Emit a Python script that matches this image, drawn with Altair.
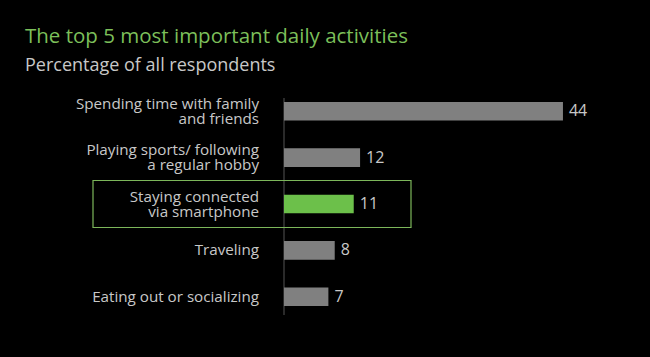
import altair as alt
import pandas as pd

categories = [
    "Spending time with family|and friends",
    "Playing sports/ following|a regular hobby",
    "Staying connected|via smartphone",
    "Traveling",
    "Eating out or socializing",
]
values = [44, 12, 11, 8, 7]
highlight = [False, False, True, False, False]

df = pd.DataFrame({"cat": categories, "value": values, "hl": highlight})

FONT = "Open Sans"
LABEL = "#c8c8c8"

y_enc = alt.Y(
    "cat:N",
    sort=categories,
    scale=alt.Scale(paddingInner=0.6, paddingOuter=0.3),
    axis=None,
)
y_plain = alt.Y("cat:N", sort=categories, axis=None)
x_enc = alt.X("value:Q", scale=alt.Scale(domain=[0, 50]), axis=None)

base = alt.Chart(df)

bars = base.mark_bar().encode(
    x=x_enc, y=y_enc,
    color=alt.condition("datum.hl", alt.value("#6cc04a"), alt.value("#808080")),
)
texts = base.mark_text(
    align="left", dx=6, font=FONT, fontSize=16, color=LABEL, baseline="middle"
).encode(x=x_enc, y=y_plain, text="value:Q")

label_style = dict(align="right", baseline="middle", font=FONT, fontSize=15.2, color=LABEL)
split = base.transform_calculate(
    parts="split(datum.cat, '|')",
    l1="datum.parts[0]",
    l2="length(datum.parts) > 1 ? datum.parts[1] : ''",
    n="length(datum.parts)",
)
single = split.transform_filter("datum.n == 1").mark_text(**label_style).encode(
    x=alt.value(-25), y=y_plain, text="l1:N")
first = split.transform_filter("datum.n == 2").mark_text(dy=-7.5, **label_style).encode(
    x=alt.value(-25), y=y_plain, text="l1:N")
second = split.transform_filter("datum.n == 2").mark_text(dy=7.5, **label_style).encode(
    x=alt.value(-25), y=y_plain, text="l2:N")

box = base.transform_filter("datum.hl").mark_bar(
    size=47, fillOpacity=0, stroke="#7cb65a", strokeWidth=1.2
).encode(y=y_plain, x=alt.value(-191), x2=alt.value(127))

rule = base.transform_filter("datum.hl").mark_rule(
    color="#555555", strokeWidth=1
).encode(x=alt.value(0), y=alt.value(10), y2=alt.value(227))

chart = alt.layer(rule, box, bars, texts, single, first, second).properties(
    width=317, height=232,
    background="#000000",
    padding={"left": 284, "top": 88, "right": 49, "bottom": 37},
    autosize=alt.AutoSizeParams(type="none"),
    title=alt.TitleParams(
        text="The top 5 most important daily activities",
        subtitle="Percentage of all respondents",
        anchor="start", frame="group", dx=-259, offset=13,
        font=FONT, fontSize=20.5, fontWeight="normal", color="#7cbf5a",
        subtitleFont=FONT, subtitleFontSize=18, subtitleColor="#c8c8c8",
        subtitlePadding=10,
    ),
).configure_view(stroke=None)

chart.save("out.html", embed_options={"renderer": "svg", "actions": False})
